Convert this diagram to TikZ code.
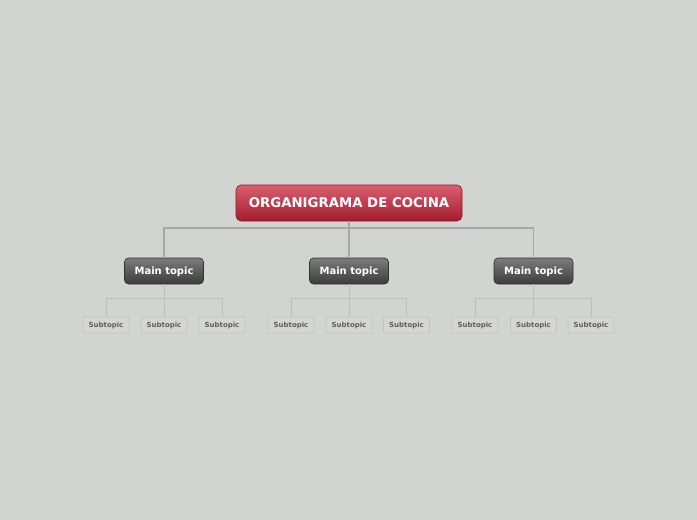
\documentclass[tikz,border=0pt]{standalone}
\usepackage{fontspec}
\setmainfont{DejaVu Sans}
\definecolor{bg}{HTML}{D2D4D1}
\definecolor{rtop}{HTML}{D9606F}
\definecolor{rbot}{HTML}{A31B2F}
\definecolor{mtop}{HTML}{7C7C7C}
\definecolor{mbot}{HTML}{3C3C3C}
\definecolor{lmain}{HTML}{A8A9A7}
\definecolor{lsub}{HTML}{BDBEBC}
\definecolor{sfill}{HTML}{D5D6D4}
\definecolor{sdraw}{HTML}{C2C3C1}
\definecolor{stext}{HTML}{5E5E5E}
\tikzset{
  rootbox/.style={rounded corners=5pt, top color=rtop, bottom color=rbot, draw=rbot!85!black,
    line width=0.6pt, minimum width=226pt, minimum height=36pt, inner sep=0pt,
    text height=9.7pt, text depth=0pt,
    text=white, font=\fontsize{13.3}{15}\selectfont\bfseries},
  mainbox/.style={rounded corners=4pt, top color=mtop, bottom color=mbot, draw=mbot!80!black,
    line width=0.6pt, minimum width=79pt, minimum height=26pt, inner sep=0pt,
    text height=7.6pt, text depth=0.4pt,
    text=white, font=\fontsize{10}{12}\selectfont\bfseries},
  subbox/.style={rounded corners=1.5pt, fill=sfill, draw=sdraw, line width=0.9pt,
    minimum width=46pt, minimum height=16pt, inner sep=0pt,
    text height=5.3pt, text depth=0.3pt,
    text=stext, font=\fontsize{7}{8}\selectfont\bfseries},
  mainline/.style={draw=lmain, line width=1.8pt},
  subline/.style={draw=lsub, line width=1pt}
}
\begin{document}
\begin{tikzpicture}[x=1pt,y=-1pt]
\fill[bg] (0,0) rectangle (697,520);
\useasboundingbox (0,0) rectangle (697,520);
\coordinate (j0) at (349,228);
\coordinate (j1) at (164,298);
\coordinate (j2) at (349,298);
\coordinate (j3) at (533.5,298);
\node[rootbox] (root) at (349,203) {ORGANIGRAMA DE COCINA};
\node[mainbox] (m1) at (164,271) {Main topic};
\node[mainbox] (m2) at (349,271) {Main topic};
\node[mainbox] (m3) at (533.5,271) {Main topic};
\node[subbox] (s11) at (106,325) {Subtopic};
\node[subbox] (s12) at (164,325) {Subtopic};
\node[subbox] (s13) at (222,325) {Subtopic};
\node[subbox] (s21) at (291,325) {Subtopic};
\node[subbox] (s22) at (349,325) {Subtopic};
\node[subbox] (s23) at (406.5,325) {Subtopic};
\node[subbox] (s31) at (475,325) {Subtopic};
\node[subbox] (s32) at (533.5,325) {Subtopic};
\node[subbox] (s33) at (591,325) {Subtopic};
\draw[mainline] (root.south) -- (j0);
\draw[mainline] (j0) -| (m1.north);
\draw[mainline] (j0) -- (m2.north);
\draw[mainline] (j0) -| (m3.north);
\draw[subline] (m1.south) -- (j1);
\draw[subline] (j1) -| (s11.north);
\draw[subline] (j1) -- (s12.north);
\draw[subline] (j1) -| (s13.north);
\draw[subline] (m2.south) -- (j2);
\draw[subline] (j2) -| (s21.north);
\draw[subline] (j2) -- (s22.north);
\draw[subline] (j2) -| (s23.north);
\draw[subline] (m3.south) -- (j3);
\draw[subline] (j3) -| (s31.north);
\draw[subline] (j3) -- (s32.north);
\draw[subline] (j3) -| (s33.north);
\end{tikzpicture}
\end{document}
